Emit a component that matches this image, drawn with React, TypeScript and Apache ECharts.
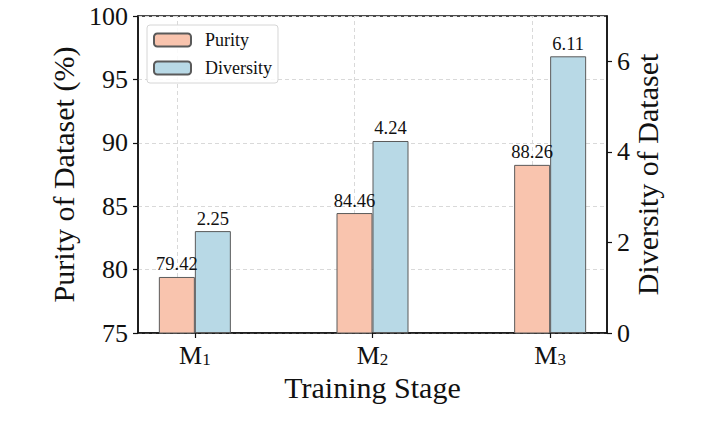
import React, { useEffect, useRef } from "react";
import * as echarts from "echarts";

const stages = ["1", "2", "3"];
const purity = [79.42, 84.46, 88.26];
const diversity = [2.25, 4.24, 6.11];
const purityTicks = [75, 80, 85, 90, 95, 100];
const diversityTicks = [0, 2, 4, 6];

const FONT = "Liberation Serif";
const GRID_LINE = { type: [4, 3] as any, color: "#d9d9d9", width: 1 };
const AXIS_LINE = { show: true, onZero: false, lineStyle: { color: "#111", width: 1.5 } };

const App: React.FC = () => {
    const ref = useRef<HTMLDivElement | null>(null);

    useEffect(() => {
        if (!ref.current) return;
        const inst = echarts.init(ref.current, undefined, { renderer: "svg" });

        const barLabel = {
            show: true,
            position: "top" as const,
            distance: 3,
            color: "#111",
            fontSize: 18.5,
            fontFamily: FONT,
            formatter: (p: any) => p.value[1].toFixed(2),
        };

        inst.setOption({
            animation: false,
            textStyle: { fontFamily: FONT },
            grid: {
                left: 138,
                right: 110,
                top: 16,
                bottom: 113,
                show: true,
                borderColor: "#111",
                borderWidth: 1.5,
                backgroundColor: "transparent",
            },
            legend: {
                orient: "vertical",
                left: 147,
                top: 25,
                padding: [6, 6, 6, 6],
                itemWidth: 37,
                itemHeight: 13,
                itemGap: 10,
                backgroundColor: "rgba(255,255,255,0.85)",
                borderColor: "#d6d6d6",
                borderWidth: 1,
                borderRadius: 3,
                textStyle: { fontFamily: FONT, fontSize: 18, color: "#111", padding: [0, 0, 0, 9] },
                data: ["Purity", "Diversity"],
            },
            xAxis: {
                type: "value",
                min: -0.32,
                max: 2.32,
                name: "Training Stage",
                nameLocation: "middle",
                nameGap: 36,
                nameTextStyle: { fontFamily: FONT, fontSize: 30, color: "#111" },
                axisLine: AXIS_LINE,
                axisTick: {
                    show: true,
                    length: 5,
                    customValues: [0, 1, 2],
                    lineStyle: { color: "#111", width: 1.2 },
                },
                axisLabel: {
                    customValues: [0, 1, 2],
                    margin: 9,
                    formatter: (v: number) => `{m|M}{s|${stages[Math.round(v)]}}`,
                    rich: {
                        m: { fontFamily: FONT, fontSize: 26, color: "#111" },
                        s: { fontFamily: FONT, fontSize: 17, color: "#111", padding: [9, 0, 0, 0] },
                    },
                },
                splitLine: { show: false },
            },
            yAxis: [
                {
                    type: "value",
                    min: 75,
                    max: 100,
                    interval: 5,
                    name: "Purity of Dataset (%)",
                    nameLocation: "middle",
                    nameRotate: 90,
                    nameGap: 60,
                    nameMoveOverlap: false,
                    nameTextStyle: { fontFamily: FONT, fontSize: 30, color: "#111" },
                    axisLine: AXIS_LINE,
                    axisTick: { show: true, length: 5, lineStyle: { color: "#111", width: 1.2 } },
                    axisLabel: {
                        customValues: purityTicks,
                        fontFamily: FONT,
                        fontSize: 26,
                        color: "#111",
                        margin: 10,
                    },
                    splitLine: { show: true, lineStyle: GRID_LINE },
                },
                {
                    type: "value",
                    min: 0,
                    max: 7,
                    name: "Diversity of Dataset",
                    nameLocation: "middle",
                    nameRotate: 90,
                    nameGap: 25,
                    nameMoveOverlap: false,
                    nameTextStyle: { fontFamily: FONT, fontSize: 30, color: "#111" },
                    axisLine: AXIS_LINE,
                    axisTick: {
                        show: true,
                        length: 5,
                        customValues: diversityTicks,
                        lineStyle: { color: "#111", width: 1.2 },
                    },
                    axisLabel: {
                        customValues: diversityTicks,
                        fontFamily: FONT,
                        fontSize: 26,
                        color: "#111",
                        margin: 10,
                    },
                    splitLine: { show: false },
                },
            ],
            series: [
                {
                    name: "Purity",
                    type: "bar",
                    yAxisIndex: 0,
                    barWidth: 36,
                    barGap: "0%",
                    data: purity.map((v, i) => [i, v]),
                    itemStyle: { color: "#F9C4AE", borderColor: "#5a5a5a", borderWidth: 1 },
                    label: barLabel,
                    markLine: {
                        silent: true,
                        symbol: "none",
                        label: { show: false },
                        lineStyle: GRID_LINE,
                        data: [0, 1, 2].map((x) => ({ xAxis: x })),
                        z: 0,
                    },
                    z: 3,
                },
                {
                    name: "Diversity",
                    type: "bar",
                    yAxisIndex: 1,
                    barWidth: 36,
                    barGap: "0%",
                    data: diversity.map((v, i) => [i, v]),
                    itemStyle: { color: "#B8D9E6", borderColor: "#5a5a5a", borderWidth: 1 },
                    label: barLabel,
                    z: 3,
                },
            ],
        });

        return () => inst.dispose();
    }, []);

    return (
        <div
            ref={ref}
            style={{ position: "absolute", left: 0, top: 0, width: 717, height: 446 }}
        />
    );
};

export default App;
